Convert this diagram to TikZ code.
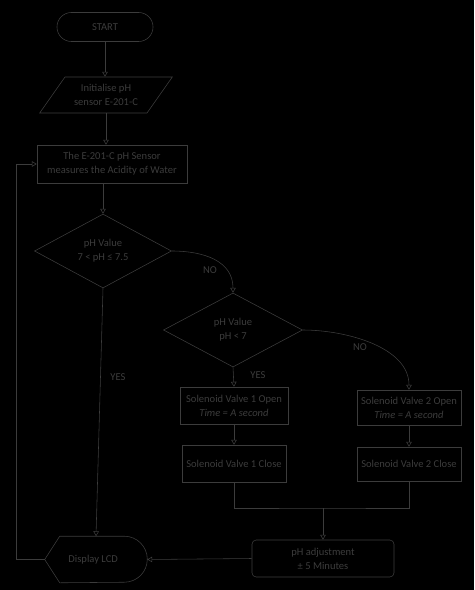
\documentclass[tikz,border=0pt]{standalone}
\usepackage{fontspec}
\setmainfont{Carlito}
\usetikzlibrary{positioning}
\usetikzlibrary{shapes.geometric}
\usetikzlibrary{arrows.meta}

\definecolor{ink}{HTML}{3C3C3C}

\begin{document}
\begin{tikzpicture}
		[x=0.025cm, y=-0.025cm,
		every node/.style={text=ink, font=\fontsize{7.5}{10}\selectfont, align=center},
		box/.style={rectangle, draw=ink, inner sep=0pt},
		term/.style={rectangle, draw=ink, rounded corners=0.36cm, minimum width=2.4cm, minimum height=0.725cm},
		io/.style={trapezium, draw=ink, trapezium left angle=47.5, trapezium right angle=132.5, trapezium stretches=true, minimum width=3.325cm, minimum height=0.9cm, inner sep=0pt},
		test/.style={diamond, draw=ink, inner sep=0pt},
		arr/.style={draw=ink, -{Triangle[open, length=3.5pt, width=4pt]}},
		line/.style={draw=ink}]
		\fill[black] (0,0) rectangle (474,590);
		\useasboundingbox (0,0) rectangle (474,590);

		\node[term] (start) at (105,27) {START};
		\node[io] (init) at (106,95) {Initialise pH\\sensor E-201-C};
		\node[box, minimum width=3.75cm, minimum height=0.95cm] (sensor) at (112,164) {The E-201-C pH Sensor\\measures the Acidity of Water};
		\node[test, minimum width=3.425cm, minimum height=1.825cm] (check) at (103,251) {pH Value\\7 < pH ≤ 7.5};
		\node[test, minimum width=3.475cm, minimum height=1.85cm] (acid) at (233,330) {pH Value\\pH < 7};
		\node[box, minimum width=2.7cm, minimum height=0.925cm] (openA) at (234,405.5) {Solenoid Valve 1 Open\\\textit{Time = A second}};
		\node[box, minimum width=2.6cm, minimum height=0.925cm] (closeA) at (234,463.5) {Solenoid Valve 1 Close};
		\node[box, minimum width=2.6cm, minimum height=0.875cm] (openB) at (409,407.5) {Solenoid Valve 2 Open\\\textit{Time = A second}};
		\node[box, minimum width=2.6cm, minimum height=0.85cm] (closeB) at (409,464) {Solenoid Valve 2 Close};
		\node[box, rounded corners=3pt, minimum width=3.55cm, minimum height=0.925cm] (adjust) at (323,558.5) {pH adjustment\\± 5 Minutes};
		\node[minimum width=2.55cm, minimum height=1.15cm, inner sep=0pt] (lcd) at (96,559.5) {\hspace{-4pt}Display LCD};
		\coordinate (join) at (323,508);
		\coordinate (back) at (16,559.5);

		% display shape
		\draw[line] (lcd.west) -- ([xshift=0.375cm]lcd.north west) -- ([xshift=-0.575cm]lcd.north east)
			arc[start angle=90, end angle=-90, radius=0.575cm] -- ([xshift=0.375cm]lcd.south west) -- cycle;

		\draw[arr] (start) -- (start |- init.north);
		\draw[arr] (init.south) -- (init.south |- sensor.north);
		\draw[arr] (check.north |- sensor.south) -- (check.north);
		\draw[arr] (check.east) to[out=0, in=90, looseness=1.1] (acid.north);
		\node at (210,270) {NO};
		\draw[arr] (check.south) -- (lcd.north);
		\node at (118,377) {YES};
		\draw[arr] (acid.south) -- (openA.north);
		\node at (258,375) {YES};
		\draw[arr] (acid.east) to[out=0, in=90, looseness=0.9] (openB.north);
		\node at (360,347) {NO};
		\draw[arr] (openA) -- (closeA);
		\draw[arr] (openB) -- (closeB);
		\draw[line] (closeA.south) |- (join) -| (closeB.south);
		\draw[arr] (join) -- (adjust.north);
		\draw[arr] (adjust.west) -- (lcd.east);
		\draw[arr] (lcd.west) -- (back) |- (sensor.west);
	\end{tikzpicture}
\end{document}
